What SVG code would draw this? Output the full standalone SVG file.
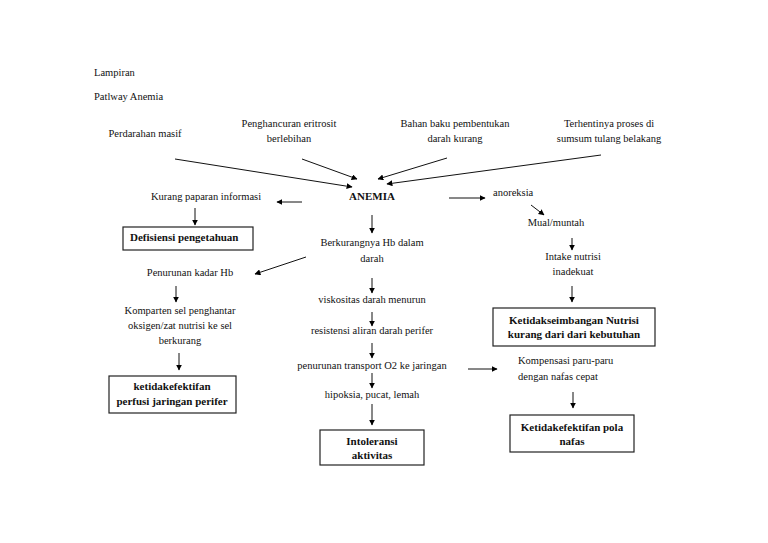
<svg xmlns="http://www.w3.org/2000/svg" width="768" height="543" viewBox="0 0 768 543">
<defs>
<marker id="ah" viewBox="0 0 10 10" refX="9" refY="5" markerWidth="6" markerHeight="6" orient="auto" markerUnits="userSpaceOnUse">
<path d="M0,0 L10,5 L0,10 z" fill="#000"/>
</marker>
</defs>
<style>
text{font-family:"Liberation Serif","Times New Roman",serif;font-size:10.5px;fill:#111}
.c{text-anchor:middle}
.b{font-weight:bold;font-size:11px}
.box{fill:#fff;stroke:#222;stroke-width:1.2}
.ln{stroke:#111;stroke-width:1;fill:none;marker-end:url(#ah)}
</style>
<rect width="768" height="543" fill="#fff"/>
<text x="94" y="76">Lampiran</text>
<text x="94" y="100">Patlway Anemia</text>

<g id="connectors">
<line class="ln" x1="175" y1="159" x2="352" y2="187"/>
<line class="ln" x1="302" y1="159" x2="357" y2="179"/>
<line class="ln" x1="447" y1="158" x2="378" y2="179"/>
<line class="ln" x1="601" y1="155" x2="387" y2="184"/>
<line class="ln" x1="302" y1="202" x2="277" y2="202"/>
<line class="ln" x1="195" y1="208" x2="195" y2="225"/>
<line class="ln" x1="449" y1="198" x2="485" y2="198"/>
<line class="ln" x1="531" y1="205" x2="544" y2="215"/>
<line class="ln" x1="572" y1="238" x2="572" y2="250"/>
<line class="ln" x1="572" y1="286" x2="572" y2="302"/>
<line class="ln" x1="372" y1="215" x2="372" y2="233"/>
<line class="ln" x1="306" y1="257" x2="255" y2="274"/>
<line class="ln" x1="176" y1="286" x2="176" y2="302"/>
<line class="ln" x1="179" y1="353" x2="179" y2="370"/>
<line class="ln" x1="372" y1="278" x2="372" y2="293"/>
<line class="ln" x1="372" y1="312" x2="372" y2="326"/>
<line class="ln" x1="372" y1="343" x2="372" y2="358"/>
<line class="ln" x1="372" y1="373" x2="372" y2="388"/>
<line class="ln" x1="372" y1="404" x2="372" y2="425"/>
<line class="ln" x1="468" y1="369" x2="497" y2="369"/>
<line class="ln" x1="573" y1="392" x2="573" y2="408"/>
</g>

<g id="perdarahan"><text class="c" x="145" y="137">Perdarahan masif</text></g>
<g id="penghancuran"><text class="c" x="289" y="127">Penghancuran eritrosit</text><text class="c" x="289" y="142">berlebihan</text></g>
<g id="bahan"><text class="c" x="455" y="127">Bahan baku pembentukan</text><text class="c" x="455" y="142">darah kurang</text></g>
<g id="terhentinya"><text class="c" x="609" y="127">Terhentinya proses di</text><text class="c" x="609" y="142">sumsum tulang belakang</text></g>
<g id="anemia"><text class="c b" x="372" y="200">ANEMIA</text></g>
<g id="kurang-paparan"><text class="c" x="206" y="200">Kurang paparan informasi</text></g>
<g id="defisiensi"><rect class="box" x="123" y="227" width="130" height="23"/><text class="b" x="130" y="241">Defisiensi pengetahuan</text></g>
<g id="anoreksia"><text x="493" y="196">anoreksia</text></g>
<g id="mual"><text class="c" x="556" y="226">Mual/muntah</text></g>
<g id="intake"><text class="c" x="573" y="260">Intake nutrisi</text><text class="c" x="573" y="275">inadekuat</text></g>
<g id="ketidakseimbangan"><rect class="box" x="493" y="308" width="162" height="38"/><text class="c b" x="574" y="324">Ketidakseimbangan Nutrisi</text><text class="c b" x="574" y="338">kurang dari dari kebutuhan</text></g>
<g id="berkurangnya"><text class="c" x="372" y="246">Berkurangnya Hb dalam</text><text class="c" x="372" y="262">darah</text></g>
<g id="penurunan-hb"><text class="c" x="190" y="276">Penurunan kadar Hb</text></g>
<g id="komparten"><text class="c" x="180" y="314">Komparten sel penghantar</text><text class="c" x="180" y="329">oksigen/zat nutrisi ke sel</text><text class="c" x="180" y="344">berkurang</text></g>
<g id="perfusi"><rect class="box" x="109" y="376" width="127" height="37"/><text class="c b" x="172" y="390">ketidakefektifan</text><text class="c b" x="172" y="405">perfusi jaringan perifer</text></g>
<g id="viskositas"><text class="c" x="372" y="303">viskositas darah menurun</text></g>
<g id="resistensi"><text class="c" x="372" y="334">resistensi aliran darah perifer</text></g>
<g id="transport"><text class="c" x="372" y="369">penurunan transport O2 ke jaringan</text></g>
<g id="hipoksia"><text class="c" x="372" y="398">hipoksia, pucat, lemah</text></g>
<g id="intoleransi"><rect class="box" x="320" y="430" width="104" height="35"/><text class="c b" x="372" y="445">Intoleransi</text><text class="c b" x="372" y="459">aktivitas</text></g>
<g id="kompensasi"><text x="518" y="364">Kompensasi paru-paru</text><text x="518" y="380">dengan nafas cepat</text></g>
<g id="pola-nafas"><rect class="box" x="510" y="415" width="124" height="37"/><text class="c b" x="572" y="431">Ketidakefektifan pola</text><text class="c b" x="572" y="445">nafas</text></g>
</svg>
